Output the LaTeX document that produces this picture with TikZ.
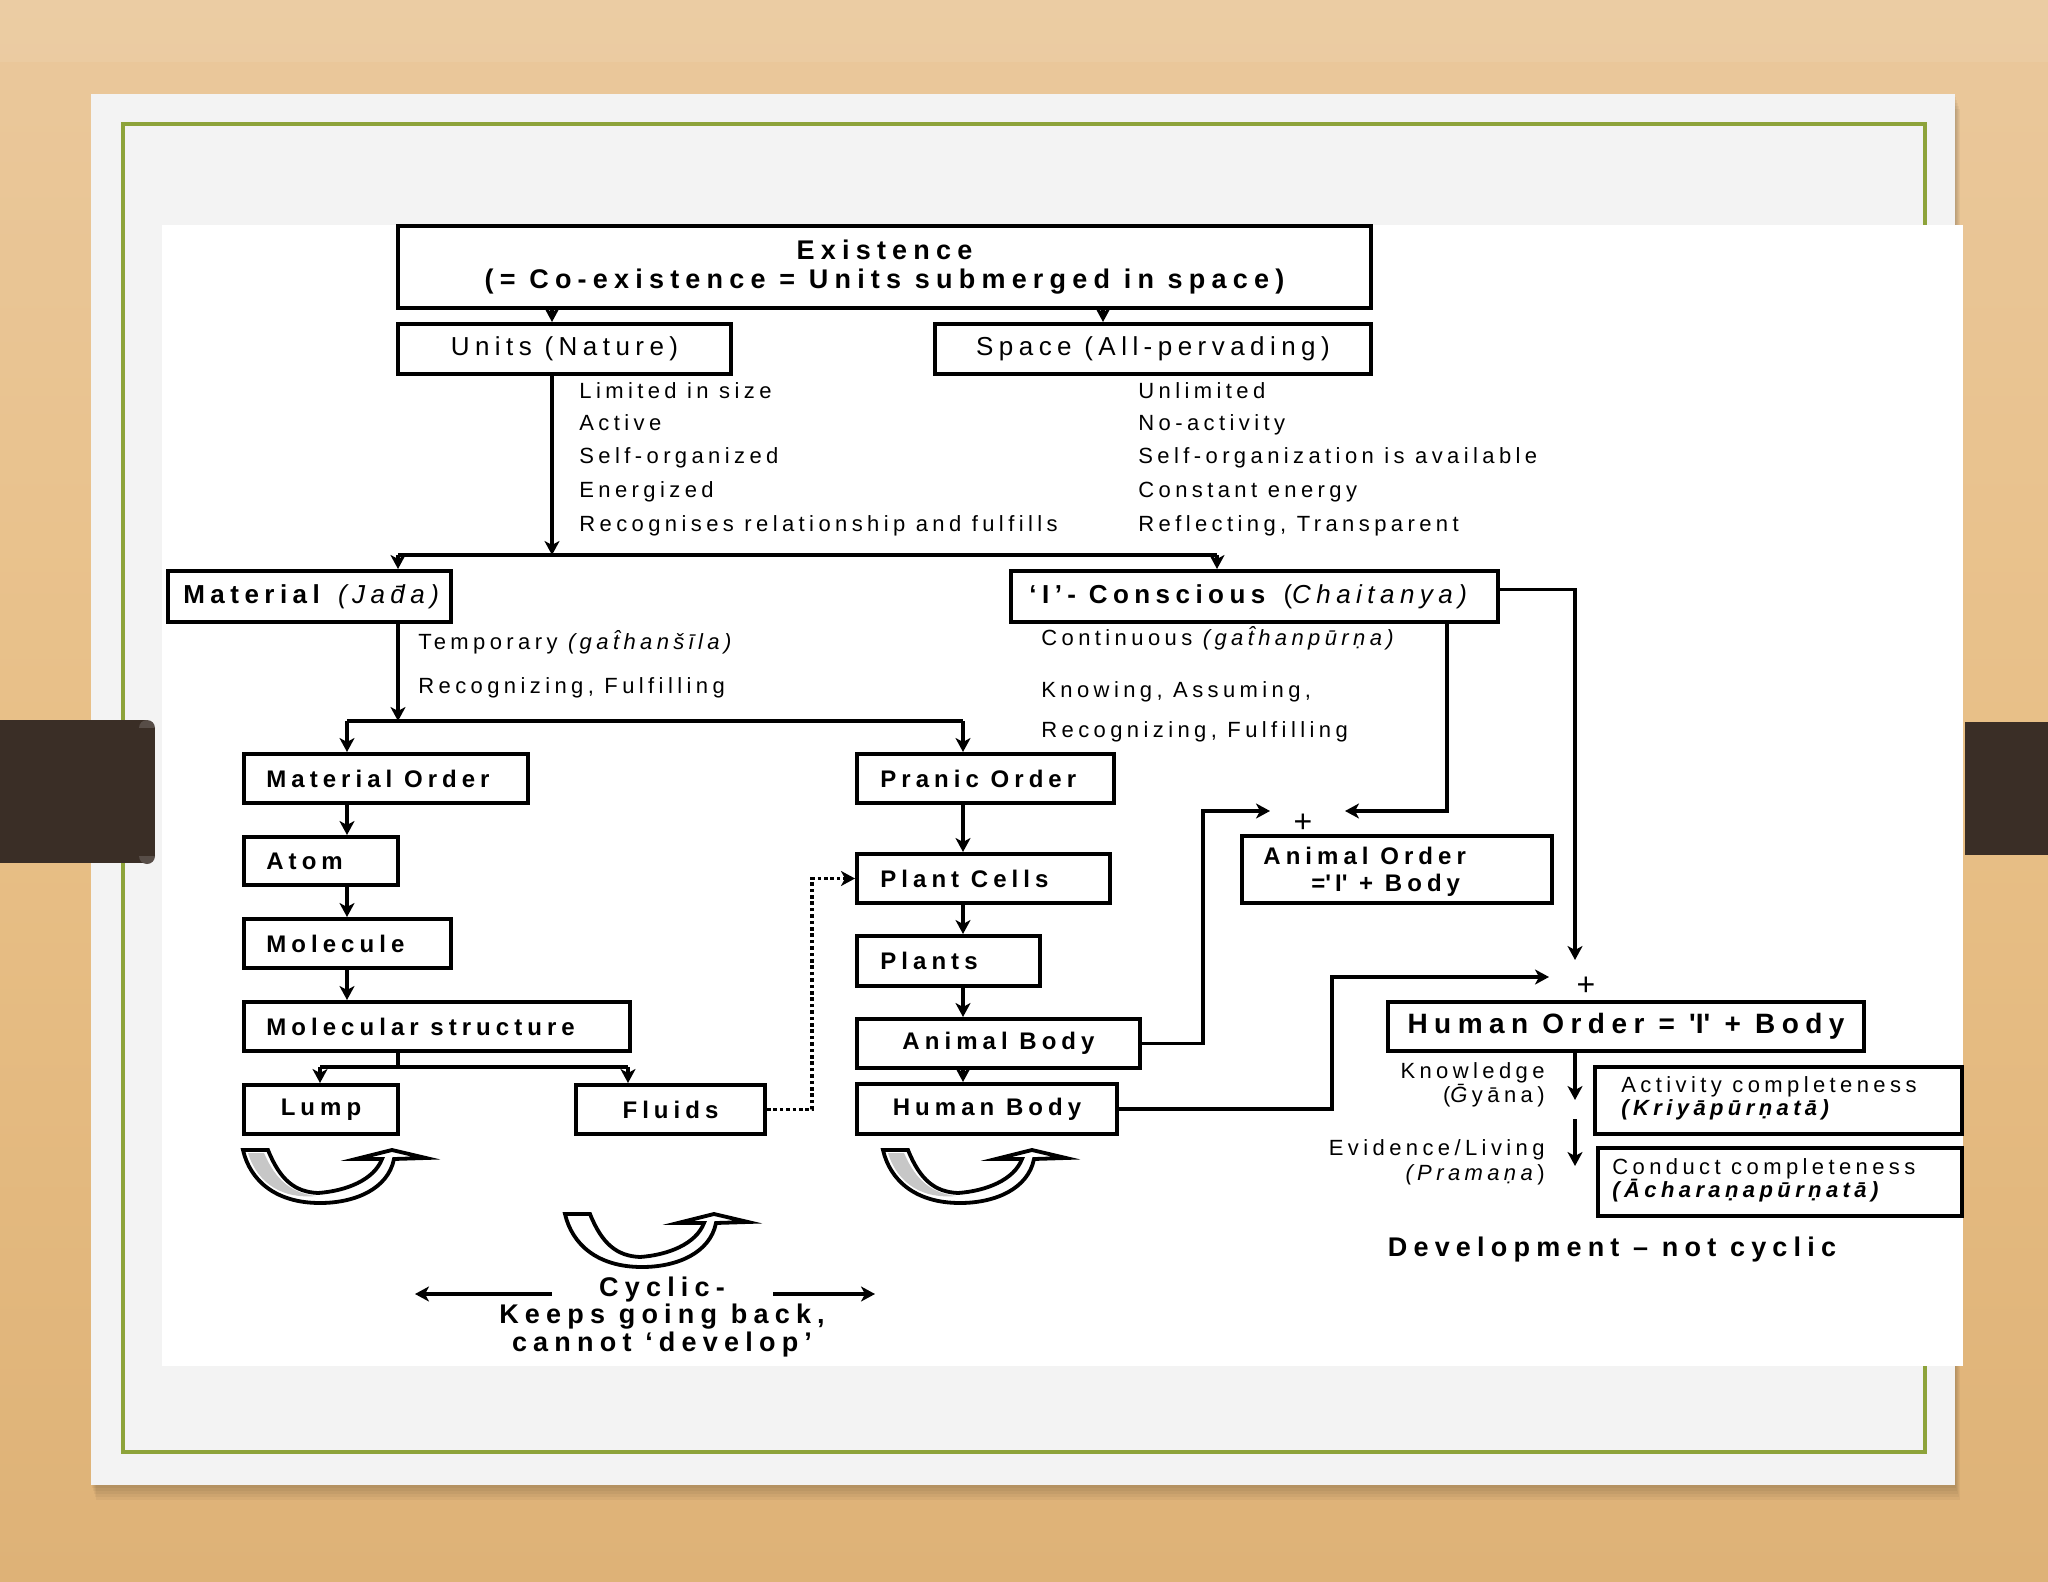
\documentclass[tikz,border=0pt]{standalone}
\usepackage{fontspec}
\setmainfont{Liberation Sans}[LetterSpace=20]
\newfontfamily\fHead{Liberation Sans}[LetterSpace=21]
\newfontfamily\fTitle{Liberation Sans}[LetterSpace=23]
\newfontfamily\fReg{Liberation Sans}[LetterSpace=20]
\usetikzlibrary{arrows.meta,calc}
\definecolor{woodA}{HTML}{EAC89C}
\definecolor{woodB}{HTML}{E8BF86}
\definecolor{woodC}{HTML}{DEB277}
\definecolor{bandC}{HTML}{3A2E26}
\definecolor{slideC}{HTML}{F3F3F3}
\definecolor{frameG}{HTML}{8DA33A}
\tikzset{
  cycshape/.pic={
    \fill[white] (1,3) -- (26,3) .. controls (38,33) and (53,45) .. (76,46)
      .. controls (104,44) and (132,33) .. (140,12) -- (114,12) -- (150,3) -- (184,11) -- (152,12)
      .. controls (146,42) and (113,56) .. (78,56) .. controls (33,56) and (8,33) .. (1,3) -- cycle;
  },
  cycline/.pic={
    \draw[line width=1.9pt, line join=miter] (1,3) -- (26,3) .. controls (38,33) and (53,45) .. (76,46)
      .. controls (104,44) and (132,33) .. (140,12) -- (114,12) -- (150,3) -- (184,11) -- (152,12)
      .. controls (146,42) and (113,56) .. (78,56) .. controls (33,56) and (8,33) .. (1,3) -- cycle;
  },
  cycgrey/.pic={
    \fill[black!22] (6,6) -- (22,6) .. controls (34,34) and (50,46) .. (74,49)
      .. controls (42,52) and (16,38) .. (6,6) -- cycle;
  }
}
\begin{document}
\begin{tikzpicture}[x=0.5pt,y=-0.5pt,
  bx/.style={draw, line width=2pt, inner sep=0pt, fill=white},
  tx/.style={inner sep=0pt, anchor=west},
  ln/.style={line width=1.6pt},
  arr/.style={line width=1.6pt, -{Stealth[length=7pt,width=7.5pt,inset=2pt]}},
  dotarr/.style={line width=1.6pt, dash pattern=on 1.8pt off 1.4pt, -{Stealth[length=7pt,width=7.5pt,inset=2pt]}},
  fB/.style={font=\fontsize{12}{14}\fHead\bfseries},
  fT/.style={font=\fontsize{13.5}{14.4}\fTitle\bfseries},
  fU/.style={font=\fontsize{13}{15}\fHead},
  fL/.style={font=\fontsize{11}{12}\fReg, inner sep=0pt, text height=1.6ex, text depth=.4ex},
  fS/.style={font=\fontsize{11}{11.5}\fReg},
]
\useasboundingbox (0,0) rectangle (2048,1582);
% background
\shade[top color=woodA, bottom color=woodC, middle color=woodB] (0,0) rectangle (2048,1582);
\fill[white, opacity=0.08] (0,0) rectangle (2048,62);
\foreach \o in {3,6,9,12,15}{\fill[black, opacity=0.04] (91+\o*0.3,94+\o) rectangle (1955+\o*0.3,1485+\o);}
\fill[slideC] (91,94) rectangle (1955,1485);
\draw[frameG, line width=1.6pt] (123,124) rectangle (1925,1452);
\fill[white] (162,225) rectangle (1963,1366);
\fill[bandC] (0,720) rectangle (146,863);
\fill[bandC!85!white] (147,728) circle[radius=8];
\fill[bandC!85!white] (147,856) circle[radius=8];
\fill[bandC] (139,728) rectangle (155,856);
\fill[bandC] (1965,722) rectangle (2048,855);

% boxes with centred text
\node[bx, fT, minimum width=486.5pt, minimum height=41pt, align=center] (exist) at (884.5,267)
  {Existence\\(= Co-existence = Units submerged in space)};
\node[bx, fU, minimum width=166.5pt, minimum height=25pt] (units) at (564.5,349) {Units (Nature)};
\node[bx, fU, minimum width=218pt, minimum height=25pt] (space) at (1153,349) {Space (All-pervading)};
\node[bx, fB, minimum width=77pt, minimum height=24.5pt] (lump) at (321,1109.5) {Lump};
\node[bx, fB, minimum width=94.5pt, minimum height=24.5pt] (fluids) at (670.5,1109.5) {Fluids};
\node[bx, fB, minimum width=141.5pt, minimum height=24.5pt] (animb) at (998.5,1043.5) {Animal Body};
\node[bx, fB, minimum width=130pt, minimum height=25pt] (humb) at (987,1109) {Human Body};
\node[bx, font=\fontsize{14}{15}\fTitle\bfseries, minimum width=238pt, minimum height=24.5pt] (humo) at (1626,1026.5)
  {Human Order = \textquotesingle{}I\textquotesingle{} + Body};

% boxes with left-aligned text
\node[bx, minimum width=141.5pt, minimum height=25.5pt] (material) at (309.5,596.5) {};
\node[tx, font=\fontsize{13}{14}\fHead] (materialT) at ($(material.west)+(17,0)$)
  {\textbf{Material} \textit{(Jad̄a)}};
\node[bx, minimum width=243.5pt, minimum height=25.5pt] (consc) at (1254.5,596.5) {};
\node[tx, font=\fontsize{13}{14}\fHead] (conscT) at ($(consc.west)+(20,0)$)
  {\textbf{‘I’- Conscious} (\textit{Chaitanya)}};
\node[bx, minimum width=142pt, minimum height=24.5pt] (matorder) at (386,778.5) {};
\node[tx, fB] (matorderT) at ($(matorder.west)+(24,0)$) {Material Order};
\node[bx, minimum width=77pt, minimum height=24pt] (atom) at (321,861) {};
\node[tx, fB] (atomT) at ($(atom.west)+(24,0)$) {Atom};
\node[bx, minimum width=103.5pt, minimum height=24.5pt] (molecule) at (347.5,943.5) {};
\node[tx, fB] (moleculeT) at ($(molecule.west)+(24,0)$) {Molecule};
\node[bx, minimum width=193pt, minimum height=24.5pt] (molstr) at (437,1026.5) {};
\node[tx, fB] (molstrT) at ($(molstr.west)+(24,0)$) {Molecular structure};
\node[bx, minimum width=128.5pt, minimum height=24.5pt] (pranic) at (985.5,778.5) {};
\node[tx, fB] (pranicT) at ($(pranic.west)+(25,0)$) {Pranic Order};
\node[bx, minimum width=126.5pt, minimum height=24.5pt] (plantc) at (983.5,878.5) {};
\node[tx, fB] (plantcT) at ($(plantc.west)+(25,0)$) {Plant Cells};
\node[bx, minimum width=91.5pt, minimum height=25pt] (plants) at (948.5,961) {};
\node[tx, fB] (plantsT) at ($(plants.west)+(25,0)$) {Plants};
\node[bx, minimum width=155pt, minimum height=33.5pt] (animo) at (1397,869.5) {};
\node[tx, align=left, font=\fontsize{12}{13.5}\fHead\bfseries] (animoT) at ($(animo.west)+(23,2)$)
  {Animal Order\\\hspace*{24pt}=\textquotesingle{}\,I\textquotesingle{} + Body};
\node[bx, minimum width=183.5pt, minimum height=33.5pt] (activ) at (1778.5,1100.5) {};
\node[tx, fS, align=left] (activT) at ($(activ.west)+(28,-2)$)
  {Activity completeness\\\textbf{\textit{(Kriyāpūrṇatā)}}};
\node[bx, minimum width=182pt, minimum height=34pt] (conduct) at (1780,1182) {};
\node[tx, fS, align=left] (conductT) at ($(conduct.west)+(16,-2)$)
  {Conduct completeness\\\textbf{\textit{(Ācharaṇapūrṇatā)}}};

% lists
\node[fL, anchor=west] (u1) at (579,392) {Limited in size};
\node[fL, anchor=west] (u2) at (579,424) {Active};
\node[fL, anchor=west] (u3) at (579,457) {Self-organized};
\node[fL, anchor=west] (u4) at (579,491) {Energized};
\node[fL, anchor=west] (u5) at (579,525) {Recognises relationship and fulfills};
\node[fL, anchor=west] (s1) at (1138,392) {Unlimited};
\node[fL, anchor=west] (s2) at (1138,424) {No-activity};
\node[fL, anchor=west] (s3) at (1138,457) {Self-organization is available};
\node[fL, anchor=west] (s4) at (1138,491) {Constant energy};
\node[fL, anchor=west] (s5) at (1138,525) {Reflecting, Transparent};
\node[fL, anchor=west] (m1) at (418,643) {Temporary \textit{(gat̂hanšīla)}};
\node[fL, anchor=west] (m2) at (418,687) {Recognizing, Fulfilling};
\node[fL, anchor=west] (c1) at (1041,639) {Continuous \textit{(gat̂hanpūrṇa)}};
\node[fL, anchor=west] (c2) at (1041,691) {Knowing, Assuming,};
\node[fL, anchor=west] (c3) at (1041,731) {Recognizing, Fulfilling};
\node[fL, anchor=east] (k1) at (1545,1072) {Knowledge};
\node[fL, anchor=east] (k2) at (1545,1096) {(\textit{Ḡ}yāna)};
\node[fL, anchor=east] (e1) at (1545,1149) {Evidence/Living};
\node[fL, anchor=east] (e2) at (1545,1174) {\textit{(Pramaṇa})};
\node[font=\fontsize{16}{16}\selectfont, inner sep=0pt] (plus1) at (1303,823) {+};
\node[font=\fontsize{16}{16}\selectfont, inner sep=0pt] (plus2) at (1586,986) {+};
\node[fT] (dev) at (1612,1250) {Development – not cyclic};
\node[fT, align=center, inner sep=0pt, font=\fontsize{13.5}{13.8}\fTitle\bfseries] (cyct) at (662,1317) {Cyclic-\\Keeps going back,\\cannot ‘develop’};

% connectors
\coordinate (xU) at (552,0);
\coordinate (xS) at (1103,0);
\draw[arr] (exist.south -| xU) -- (units.north -| xU);
\draw[arr] (exist.south -| xS) -- (space.north -| xS);
\coordinate (jA) at (552,555);
\coordinate (barL) at (398,555);
\coordinate (barR) at (1217,555);
\draw[arr] (units.south -| xU) -- (jA);
\draw[ln] (barL) -- (barR);
\draw[arr] (barL) -- (material.north -| barL);
\draw[arr] (barR) -- (consc.north -| barR);
\coordinate (j2) at (398,721);
\coordinate (b2L) at (347,721);
\coordinate (b2R) at (963,721);
\draw[arr] (material.south -| j2) -- (j2);
\draw[ln] (b2L) -- (b2R);
\draw[arr] (b2L) -- (matorder.north -| b2L);
\draw[arr] (b2R) -- (pranic.north -| b2R);
\draw[arr] (matorder.south -| b2L) -- (atom.north -| b2L);
\draw[arr] (atom.south -| b2L) -- (molecule.north -| b2L);
\draw[arr] (molecule.south -| b2L) -- (molstr.north -| b2L);
\coordinate (j3) at (398,1067);
\coordinate (b3L) at (320,1067);
\coordinate (b3R) at (628,1067);
\draw[ln] (molstr.south -| j3) -- (j3);
\draw[ln] (b3L) -- (b3R);
\draw[arr] (b3L) -- (lump.north -| b3L);
\draw[arr] (b3R) -- (fluids.north -| b3R);
\draw[arr] (pranic.south -| b2R) -- (plantc.north -| b2R);
\draw[arr] (plantc.south -| b2R) -- (plants.north -| b2R);
\draw[arr] (plants.south -| b2R) -- (animb.north -| b2R);
\draw[arr] (animb.south -| b2R) -- (humb.north -| b2R);
\coordinate (dx) at (812,0);
\draw[dotarr] (fluids.east) -- (fluids.east -| dx) -- (plantc.west -| dx) -- (plantc.west);
\coordinate (ax) at (1203,0);
\coordinate (aEnd) at (1270,811);
\draw[arr] (animb.east) -- (animb.east -| ax) -- (aEnd -| ax) -- (aEnd);
\coordinate (cx) at (1447,0);
\coordinate (cEnd) at (1345,811);
\draw[arr] (consc.south -| cx) -- (cEnd -| cx) -- (cEnd);
\coordinate (hx) at (1575,960);
\draw[arr] ($(consc.east)+(0,-7)$) -- ($(consc.east -| hx)+(0,-7)$) -- (hx);
\coordinate (hbx) at (1332,0);
\coordinate (hEnd) at (1549,977);
\draw[arr] (humb.east) -- (humb.east -| hbx) -- (hEnd -| hbx) -- (hEnd);
\coordinate (kA) at (1575,1100);
\draw[arr] (humo.south -| kA) -- (kA);
\coordinate (kB) at (1575,1119);
\coordinate (kC) at (1575,1166);
\draw[arr] (kB) -- (kC);
\coordinate (la) at (552,1294);
\coordinate (lb) at (415,1294);
\coordinate (ra) at (773,1294);
\coordinate (rb) at (875,1294);
\draw[arr] (la) -- (lb);
\draw[arr] (ra) -- (rb);

% cyclic arrows
\pic at (242,1147) {cycshape};
\pic at (242,1147) {cycgrey};
\pic at (242,1147) {cycline};
\pic at (882,1147) {cycshape};
\pic at (882,1147) {cycgrey};
\pic at (882,1147) {cycline};
\pic at (564,1211) {cycshape};
\pic at (564,1211) {cycline};
\end{tikzpicture}
\end{document}
